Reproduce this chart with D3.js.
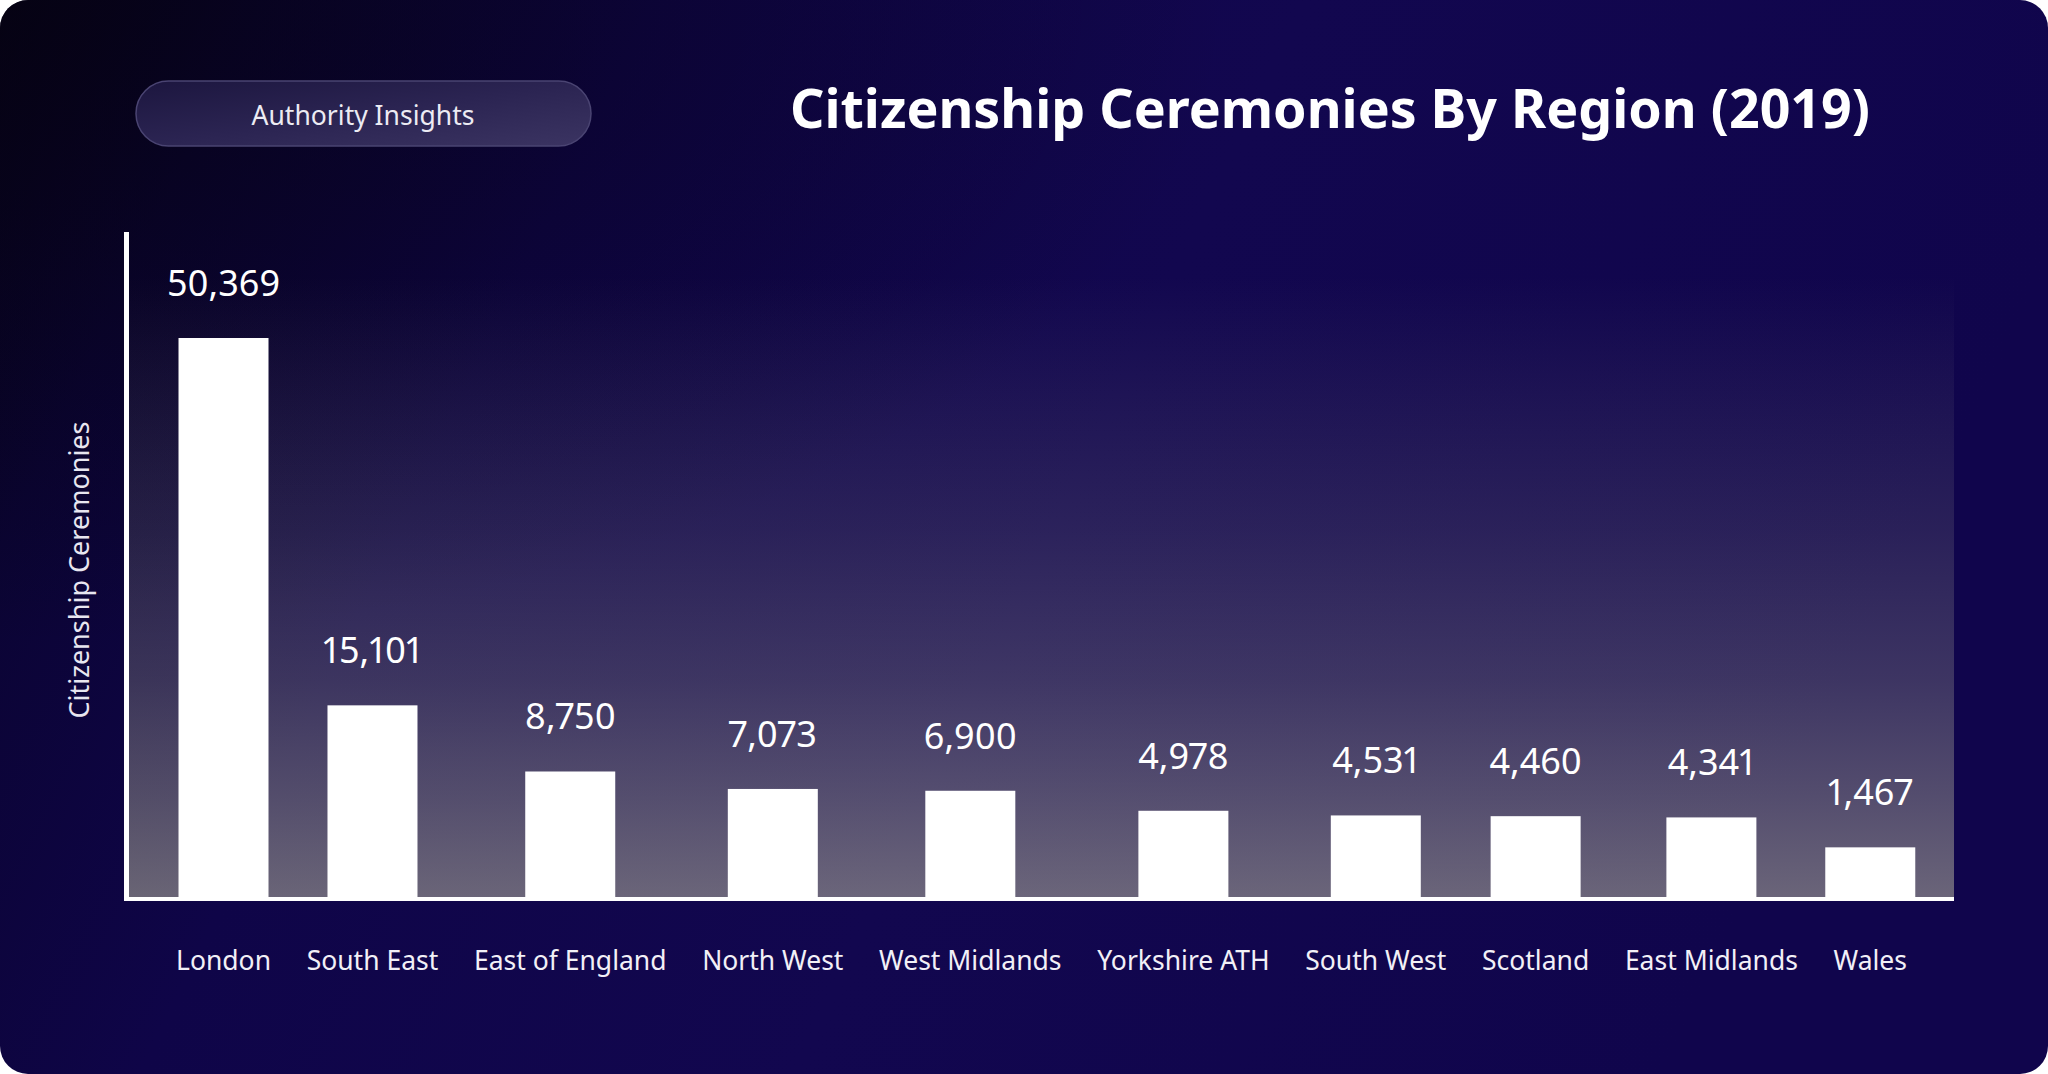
<!DOCTYPE html>
<html>
<head>
<meta charset="utf-8">
<script src="https://cdn.jsdelivr.net/npm/d3@7"></script>
<style>
html,body{margin:0;padding:0;background:#ffffff;}
svg{display:block;font-family:"Noto Sans",sans-serif;}
.val{font-variant-numeric:proportional-nums;font-feature-settings:"pnum" 1;}
</style>
</head>
<body>
<svg id="chart" width="2048" height="1074"></svg>
<script>
// ---- data ----
const categories = ["London","South East","East of England","North West","West Midlands","Yorkshire ATH","South West","Scotland","East Midlands","Wales"];
const values = [50369, 15101, 8750, 7073, 6900, 4978, 4531, 4460, 4341, 1467];
const chartTitle = "Citizenship Ceremonies By Region (2019)";
const badgeText = "Authority Insights";
const yAxisTitle = "Citizenship Ceremonies";

// ---- layout ----
const W = 2048, H = 1074;
const plot = {left: 127, right: 1954, top: 275, bottom: 897, barTop: 338};
const svg = d3.select("#chart");
const defs = svg.append("defs");

// card background
const cg = defs.append("linearGradient").attr("id","cardGrad")
  .attr("x1",0).attr("y1",0).attr("x2",1).attr("y2",0.25);
[[0,"#07031a"],[0.12,"#0b0434"],[0.3,"#0f0548"],[0.6,"#12074f"],[1,"#10054c"]]
  .forEach(([o,c]) => cg.append("stop").attr("offset",o).attr("stop-color",c));
const rg = defs.append("radialGradient").attr("id","cornerShade")
  .attr("cx",0).attr("cy",0).attr("r",0.6);
rg.append("stop").attr("offset",0).attr("stop-color","#050210").attr("stop-opacity",0.7);
rg.append("stop").attr("offset",1).attr("stop-color","#050210").attr("stop-opacity",0);

svg.append("rect").attr("width",W).attr("height",H).attr("rx",28).attr("fill","url(#cardGrad)");
svg.append("rect").attr("width",W).attr("height",H).attr("rx",28).attr("fill","url(#cornerShade)");

// plot glow gradient
const pg = defs.append("linearGradient").attr("id","plotGrad")
  .attr("x1",0).attr("y1",0).attr("x2",0).attr("y2",1);
[[0,0],[0.2,0.07],[0.41,0.14],[0.65,0.245],[0.84,0.37],[1,0.49]]
  .forEach(([o,a]) => pg.append("stop").attr("offset",o).attr("stop-color","rgb(200,200,168)").attr("stop-opacity",a));
svg.append("rect")
  .attr("x",plot.left).attr("y",plot.top)
  .attr("width",plot.right-plot.left).attr("height",plot.bottom-plot.top)
  .attr("fill","url(#plotGrad)");

// badge
const bg = defs.append("linearGradient").attr("id","badgeGrad")
  .attr("x1",0).attr("y1",0).attr("x2",1).attr("y2",1);
bg.append("stop").attr("offset",0).attr("stop-color","#1c163f");
bg.append("stop").attr("offset",0.5).attr("stop-color","#2b2452");
bg.append("stop").attr("offset",1).attr("stop-color","#3b3462");
svg.append("rect").attr("x",136).attr("y",81).attr("width",455).attr("height",65).attr("rx",32.5)
  .attr("fill","url(#badgeGrad)").attr("stroke","#4a4472").attr("stroke-width",1.5);
svg.append("text").attr("x",363).attr("y",125).attr("text-anchor","middle")
  .attr("font-size",26.5).attr("fill","#ecebf3").text(badgeText);

// title
svg.append("text").attr("x",790).attr("y",128)
  .attr("font-size",53).attr("font-weight",700).attr("fill","#ffffff")
  .attr("textLength",1080).attr("lengthAdjust","spacingAndGlyphs")
  .text(chartTitle);

// y axis title
svg.append("text")
  .attr("transform","translate(89,570) rotate(-90)")
  .attr("text-anchor","middle").attr("font-size",27).attr("fill","#e8e6f0")
  .text(yAxisTitle);

// x positions: columns sized to each label, spread between fixed edges
const labelG = svg.append("g");
const labels = labelG.selectAll("text").data(categories).join("text")
  .attr("font-size",26.5).attr("fill","#f2f0f7").attr("y",970).attr("text-anchor","middle")
  .text(d => d);
const widths = labels.nodes().map(n => n.getComputedTextLength());
const startX = 176, endX = 1907;
const gap = (endX - startX - d3.sum(widths)) / (categories.length - 1);
let cursor = startX;
const centers = widths.map(w => { const c = cursor + w/2; cursor += w + gap; return c; });
const x = d3.scaleOrdinal().domain(categories).range(centers);
labels.attr("x", d => x(d));

// y scale
const y = d3.scaleLinear().domain([-3300, d3.max(values)]).range([plot.bottom, plot.barTop]);
const fmt = d3.format(",");
const barW = 90;
const data = categories.map((c,i) => ({c, v: values[i]}));

svg.append("g").selectAll("rect").data(data).join("rect")
  .attr("x", d => x(d.c) - barW/2).attr("width", barW)
  .attr("y", d => y(d.v)).attr("height", d => plot.bottom - y(d.v))
  .attr("fill","#ffffff");

svg.append("g").selectAll("text").data(data).join("text")
  .attr("class","val")
  .attr("x", d => x(d.c)).attr("y", d => y(d.v) - 42)
  .attr("text-anchor","middle").attr("font-size",36).attr("fill","#ffffff")
  .text(d => fmt(d.v));

// axis lines
svg.append("line").attr("x1",126.5).attr("x2",126.5).attr("y1",232).attr("y2",901)
  .attr("stroke","#ffffff").attr("stroke-width",5);
svg.append("line").attr("x1",124).attr("x2",plot.right).attr("y1",899).attr("y2",899)
  .attr("stroke","#ffffff").attr("stroke-width",4);
</script>
</body>
</html>
